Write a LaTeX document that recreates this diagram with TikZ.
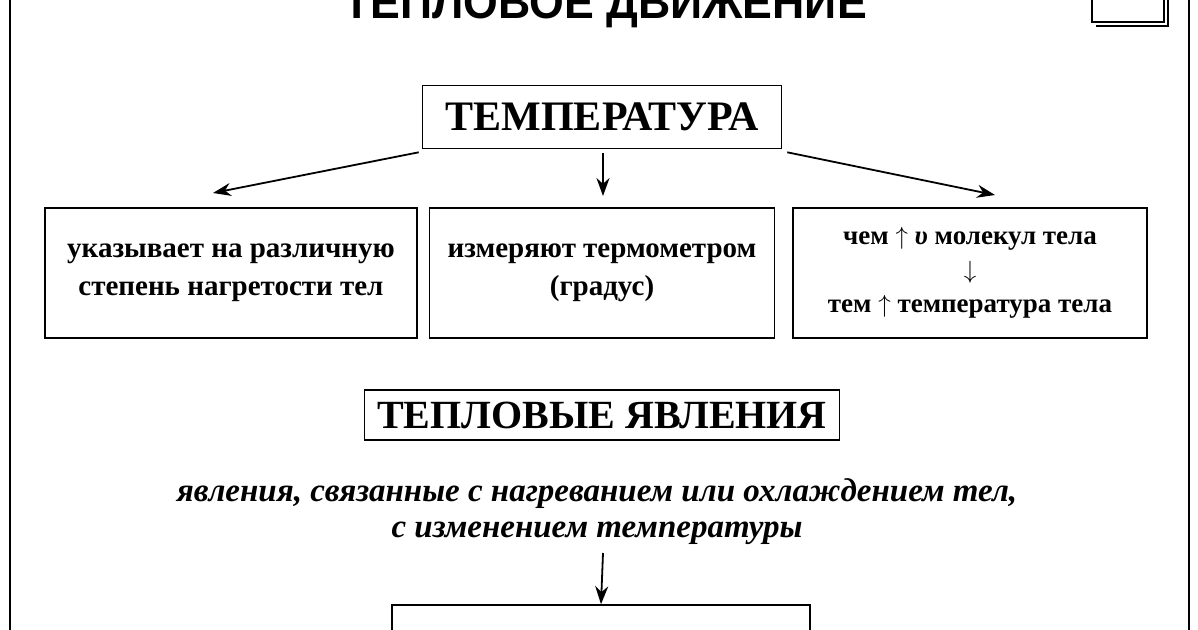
\documentclass[tikz,border=0pt]{standalone}
\usepackage{fontspec}
\setmainfont{Liberation Serif}
\newfontfamily\sansf{Liberation Sans}
\usetikzlibrary{arrows.meta}
\begin{document}
\begin{tikzpicture}[x=1pt,y=-1pt,
  box/.style={draw,line width=1.6pt,inner sep=0pt},
  txt/.style={font=\fontsize{29}{38}\selectfont\bfseries,align=center},
  arr/.style={-{Stealth[length=18pt,width=13pt]},line width=1.8pt}]
\useasboundingbox (0,0) rectangle (1198,629);
\clip (0,0) rectangle (1198,629);
\draw[line width=2.5pt] (10,-5) -- (10,640);
\draw[line width=2.5pt] (1189,-5) -- (1189,640);
\node[font=\sansf\fontsize{47}{47}\selectfont\bfseries,anchor=base,xscale=0.95] (title) at (605,18) {ТЕПЛОВОЕ ДВИЖЕНИЕ};
\draw[line width=1.2pt] (1092,-5) rectangle (1164,22);
\draw[line width=2pt] (1168,-5) -- (1168,26) -- (1096,26);
\node[box,minimum width=359pt,minimum height=63pt,font=\fontsize{42}{42}\selectfont\bfseries] (temp) at (602,117) {ТЕМПЕРАТУРА};
\node[box,minimum width=372pt,minimum height=130pt,txt] (b1) at (231,273) {указывает на различную\\степень нагретости тел};
\node[box,minimum width=345pt,minimum height=130pt,txt] (b2) at (602,273) {измеряют термометром\\(градус)};
\node[box,minimum width=354pt,minimum height=130pt,txt,font=\fontsize{27}{36}\selectfont\bfseries] (b3) at (970,273) {чем $\uparrow$ \textit{υ} молекул тела\\[-2pt]$\downarrow$\\[-2pt]тем $\uparrow$ температура тела};
\draw[arr] (temp.south west) ++(-3,3) -- (213,193);
\draw[arr] (temp.south) ++(1,4) -- (603,196);
\draw[arr] (temp.south east) ++(5,3) -- (995,195);
\node[box,minimum width=475pt,minimum height=50pt,font=\fontsize{40}{40}\selectfont\bfseries] (tj) at (602,415) {ТЕПЛОВЫЕ ЯВЛЕНИЯ};
\node[font=\fontsize{33}{36}\selectfont\bfseries\itshape,align=center] (def) at (597,512) {явления, связанные с нагреванием или охлаждением тел,\\с изменением температуры};
\node[box,minimum width=418pt,minimum height=60pt] (bot) at (601,635) {};
\draw[arr] (603,553) -- (bot.north);
\end{tikzpicture}
\end{document}
